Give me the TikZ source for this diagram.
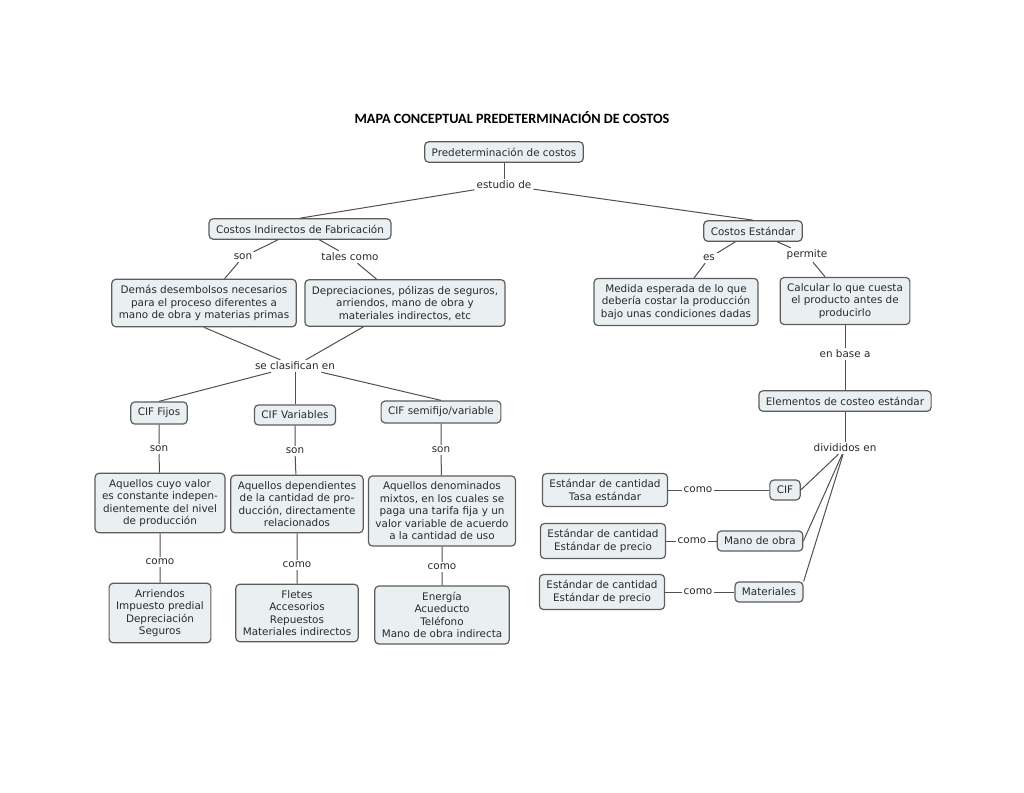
\documentclass[tikz,border=0pt]{standalone}
\usepackage{fontspec}
\setmainfont{DejaVu Sans}
\newfontfamily\titlefont{Carlito}
\usepackage{tikz}
\usetikzlibrary{shapes,arrows}
\definecolor{boxfill}{HTML}{EAF0F2}
\definecolor{boxline}{HTML}{5C5C5C}
\definecolor{linkline}{HTML}{505050}
\definecolor{inktext}{HTML}{2A2A2A}
\tikzstyle{concept} = [draw=boxline, fill=boxfill, rounded corners=4pt, line width=1.2pt,
	align=center, inner xsep=7pt, inner ysep=6pt, text=inktext,
	font=\fontsize{10.4}{12.5}\selectfont]
\tikzstyle{linkword} = [inner sep=2pt, text=inktext, font=\fontsize{10.4}{12.5}\selectfont]
\tikzstyle{link} = [draw=linkline, line width=1pt]

\begin{document}
\begin{tikzpicture}[x=1pt,y=-1pt]
   \useasboundingbox[fill=white] (0,0) rectangle (1024,792);
   \node[font=\titlefont\bfseries\fontsize{14.2}{16}\selectfont] (title) at (512,118) {MAPA CONCEPTUAL PREDETERMINACIÓN DE COSTOS};

   \node[concept] (pred) at (504,152) {Predeterminación de costos};
   \node[linkword] (estudio) at (504,185) {estudio de};
   \node[concept] (cif) at (300,229) {Costos Indirectos de Fabricación};
   \node[concept] (cest) at (753,231) {Costos Estándar};

   \node[linkword] (son) at (243,257) {son};
   \node[linkword] (tales) at (350,257) {tales como};
   \node[concept] (demas) at (204,303) {Demás desembolsos necesarios\\para el proceso diferentes a\\mano de obra y materias primas};
   \node[concept] (deprec) at (405,303) {Depreciaciones, pólizas de seguros,\\arriendos, mano de obra y\\materiales indirectos, etc};
   \node[linkword] (clasif) at (295,366) {se clasifican en};

   \node[concept] (fijos) at (159,413) {CIF Fijos};
   \node[concept] (variab) at (295,415) {CIF Variables};
   \node[concept] (semif) at (441,412) {CIF semifijo/variable};
   \node[linkword] (sonf) at (159,449) {son};
   \node[linkword] (sonv) at (295,451) {son};
   \node[linkword] (sons) at (441,450) {son};
   \node[concept] (descf) at (160,503) {Aquellos cuyo valor\\es constante indepen-\\dientemente del nivel\\de producción};
   \node[concept] (descv) at (297,504) {Aquellos dependientes\\de la cantidad de pro-\\ducción, directamente\\relacionados};
   \node[concept] (descs) at (442,511) {Aquellos denominados\\mixtos, en los cuales se\\paga una tarifa fija y un\\valor variable de acuerdo\\a la cantidad de uso};
   \node[linkword] (comof) at (160,562) {como};
   \node[linkword] (comov) at (297,565) {como};
   \node[linkword] (comos) at (442,567) {como};
   \node[concept] (ejf) at (160,613) {Arriendos\\Impuesto predial\\Depreciación\\Seguros};
   \node[concept] (ejv) at (297,613) {Fletes\\Accesorios\\Repuestos\\Materiales indirectos};
   \node[concept] (ejs) at (442,615) {Energía\\Acueducto\\Teléfono\\Mano de obra indirecta};

   \node[linkword] (es) at (709,258) {es};
   \node[linkword] (permite) at (807,255) {permite};
   \node[concept] (medida) at (676,302) {Medida esperada de lo que\\debería costar la producción\\bajo unas condiciones dadas};
   \node[concept] (calcular) at (845,301) {Calcular lo que cuesta\\el producto antes de\\producirlo};
   \node[linkword] (base) at (845,354) {en base a};
   \node[concept] (elem) at (845,401) {Elementos de costeo estándar};
   \node[linkword] (divid) at (845,448) {divididos en};

   \node[concept] (ecif) at (785,490) {CIF};
   \node[concept] (emano) at (760,541) {Mano de obra};
   \node[concept] (emat) at (769,592) {Materiales};
   \node[concept] (scif) at (605,490) {Estándar de cantidad\\Tasa estándar};
   \node[concept] (smano) at (603,541) {Estándar de cantidad\\Estándar de precio};
   \node[concept] (smat) at (602,592) {Estándar de cantidad\\Estándar de precio};
   \node[linkword] (comoc) at (698,490) {como};
   \node[linkword] (comom) at (692,541) {como};
   \node[linkword] (comot) at (698,592) {como};

   \draw[link] (pred) -- (estudio);
   \draw[link] (estudio) -- (cif.north);
   \draw[link] (estudio) -- (cest.north);
   \draw[link] (cif) -- (son) -- (demas);
   \draw[link] (cif) -- (tales) -- (deprec);
   \draw[link] (demas.south) -- (clasif);
   \draw[link] (deprec) -- (clasif);
   \draw[link] (clasif) -- (fijos.north);
   \draw[link] (clasif) -- (variab);
   \draw[link] (clasif) -- (semif.north);
   \draw[link] (fijos) -- (sonf) -- (descf) -- (comof) -- (ejf);
   \draw[link] (variab) -- (sonv) -- (descv) -- (comov) -- (ejv);
   \draw[link] (semif) -- (sons) -- (descs) -- (comos) -- (ejs);

   \draw[link] (cest) -- (es) -- (medida);
   \draw[link] (cest) -- (permite) -- (calcular);
   \draw[link] (calcular) -- (base) -- (elem) -- (divid);
   \draw[link] (divid) -- (ecif.east);
   \draw[link] (divid) -- (emano.east);
   \draw[link] (divid) -- (emat.north east);
   \draw[link] (scif) -- (comoc) -- (ecif);
   \draw[link] (smano) -- (comom) -- (emano);
   \draw[link] (smat) -- (comot) -- (emat);
\end{tikzpicture}
\end{document}
